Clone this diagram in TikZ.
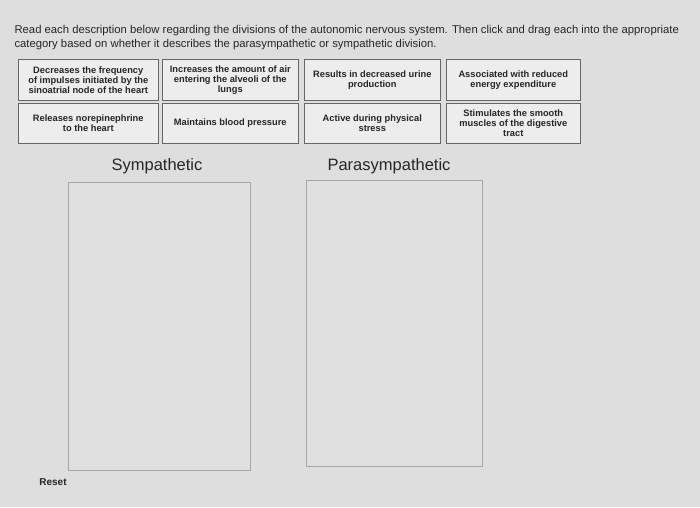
\documentclass[tikz,border=0pt]{standalone}
\usepackage{fontspec}
\setmainfont{Liberation Sans}
\begin{document}
\begin{tikzpicture}[x=1pt,y=-1pt,
  card/.style={draw=black!60,fill=white!93!black,line width=0.6pt,align=center,font=\fontsize{9.3}{10}\selectfont\bfseries,text=black!85,anchor=north west,inner sep=1pt},
  drop/.style={draw=black!35,fill=white!88!black,anchor=north west},
  ttl/.style={font=\fontsize{16.5}{18}\selectfont,text=black!85}]
\fill[white!87!black] (0,0) rectangle (700,507);
\useasboundingbox (0,0) rectangle (700,507);
\node[anchor=north west,align=left,font=\fontsize{11.3}{13.5}\selectfont,text=black!85] (hdr) at (11,22) {Read each description below regarding the divisions of the autonomic nervous system. Then click and drag each into the appropriate\\category based on whether it describes the parasympathetic or sympathetic division.};
\node[card,minimum width=140,minimum height=41] (a) at (18,59) {Decreases the frequency\\of impulses initiated by the\\sinoatrial node of the heart};
\node[card,minimum width=136,minimum height=41] (b) at (162,59) {Increases the amount of air\\entering the alveoli of the\\lungs};
\node[card,minimum width=136,minimum height=41] (c) at (304,59) {Results in decreased urine\\production};
\node[card,minimum width=134,minimum height=41] (d) at (446,59) {Associated with reduced\\energy expenditure};
\node[card,minimum width=140,minimum height=40] (e) at (18,103) {Releases norepinephrine\\to the heart};
\node[card,minimum width=136,minimum height=40] (f) at (162,103) {Maintains blood pressure};
\node[card,minimum width=136,minimum height=40] (g) at (304,103) {Active during physical\\stress};
\node[card,minimum width=134,minimum height=40] (h) at (446,103) {Stimulates the smooth\\muscles of the digestive\\tract};
\node[ttl] (s) at (157,166) {Sympathetic};
\node[ttl] (p) at (389,166) {Parasympathetic};
\node[drop,minimum width=182,minimum height=288] (sd) at (68,182) {};
\node[drop,minimum width=176,minimum height=286] (pd) at (306,180) {};
\node[font=\fontsize{10}{12}\selectfont\bfseries,text=black!85] (r) at (53,482) {Reset};
\end{tikzpicture}
\end{document}
